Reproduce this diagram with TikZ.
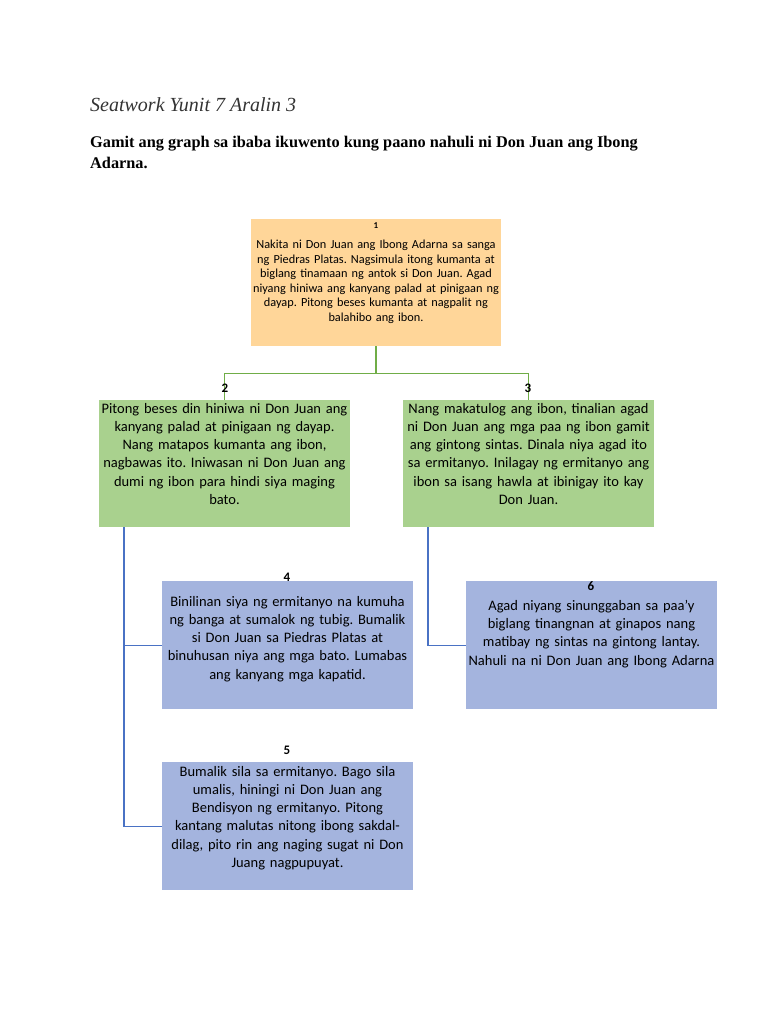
\documentclass[tikz,border=0pt]{standalone}
\usepackage{fontspec}
\setmainfont{Carlito}
\newfontfamily\serifhead{Liberation Serif}
\usepackage{tikz}
\usetikzlibrary{positioning}
\definecolor{orangefill}{HTML}{FFD699}
\definecolor{greenfill}{HTML}{A9D18E}
\definecolor{bluefill}{HTML}{A4B4DE}
\definecolor{greenline}{HTML}{70AD47}
\definecolor{blueline}{HTML}{4A72C4}
\frenchspacing

\begin{document}
\begin{tikzpicture}[x=1pt, y=-1pt,
    orangebox/.style={fill=orangefill, minimum width=250pt, minimum height=127pt, anchor=north west, inner sep=0pt},
    greenbox/.style={fill=greenfill, minimum width=251pt, minimum height=127pt, anchor=north west, inner sep=0pt},
    bluebox/.style={fill=bluefill, minimum width=251pt, minimum height=128pt, anchor=north west, inner sep=0pt},
    bigtext/.style={align=center, text width=270pt, anchor=north, inner sep=0pt, font=\fontsize{14.5}{18.2}\selectfont},
    smalltext/.style={align=center, text width=270pt, anchor=north, inner sep=0pt, font=\fontsize{12.3}{14.5}\selectfont},
    number/.style={inner sep=0pt, font=\bfseries\fontsize{13}{13}\selectfont},
    greenlink/.style={draw=greenline, line width=1.5pt},
    bluelink/.style={draw=blueline, line width=1.1pt}
]
\useasboundingbox (0,0) rectangle (768,1024);

% heading
\node[anchor=base west, inner sep=0pt, text=black!80, font=\serifhead\itshape\fontsize{20}{24}\selectfont] (title) at (90,112) {Seatwork Yunit 7 Aralin 3};
\node[anchor=base west, align=left, inner sep=0pt, font=\serifhead\bfseries\fontsize{16.3}{21}\selectfont] (task) at (90,169) {Gamit ang graph sa ibaba ikuwento kung paano nahuli ni Don Juan ang Ibong\\Adarna.};

% boxes
\node[orangebox] (s1) at (251,219) {};
\node[greenbox] (s2) at (99,400) {};
\node[greenbox] (s3) at (403,400) {};
\node[bluebox] (s4) at (162,581) {};
\node[bluebox] (s6) at (466,581) {};
\node[bluebox] (s5) at (162,762) {};

% connectors
\draw[greenlink] (s1.south) -- ++(0,27) -| (s2.north);
\draw[greenlink] (s1.south) -- ++(0,27) -| (s3.north);
\draw[bluelink] ([xshift=25pt]s2.south west) |- (s4.west);
\draw[bluelink] ([xshift=25pt]s2.south west) |- (s5.west);
\draw[bluelink] ([xshift=25pt]s3.south west) |- (s6.west);

% numbers
\node[number, font=\bfseries\fontsize{9}{9}\selectfont] (n1) at (376,226) {1};
\node[number] (n2) at (225,388) {2};
\node[number] (n3) at (528,388) {3};
\node[number] (n4) at (287,577) {4};
\node[number] (n6) at (591,586) {6};
\node[number] (n5) at (287,750) {5};

% texts
\node[smalltext] (t1) at (376,240) {Nakita ni Don Juan ang Ibong Adarna sa sanga\\ng Piedras Platas. Nagsimula itong kumanta at\\biglang tinamaan ng antok si Don Juan. Agad\\niyang hiniwa ang kanyang palad at pinigaan ng\\dayap. Pitong beses kumanta at nagpalit ng\\balahibo ang ibon.};
\node[bigtext] (t2) at (224.5,403) {Pitong beses din hiniwa ni Don Juan ang\\kanyang palad at pinigaan ng dayap.\\Nang matapos kumanta ang ibon,\\nagbawas ito. Iniwasan ni Don Juan ang\\dumi ng ibon para hindi siya maging\\bato.};
\node[bigtext] (t3) at (528.5,403) {Nang makatulog ang ibon, tinalian agad\\ni Don Juan ang mga paa ng ibon gamit\\ang gintong sintas. Dinala niya agad ito\\sa ermitanyo. Inilagay ng ermitanyo ang\\ibon sa isang hawla at ibinigay ito kay\\Don Juan.};
\node[bigtext] (t4) at (287.5,596) {Binilinan siya ng ermitanyo na kumuha\\ng banga at sumalok ng tubig. Bumalik\\si Don Juan sa Piedras Platas at\\binuhusan niya ang mga bato. Lumabas\\ang kanyang mga kapatid.};
\node[bigtext] (t6) at (591.5,600) {Agad niyang sinunggaban sa paa'y\\biglang tinangnan at ginapos nang\\matibay ng sintas na gintong lantay.\\Nahuli na ni Don Juan ang Ibong Adarna};
\node[bigtext] (t5) at (287.5,766) {Bumalik sila sa ermitanyo. Bago sila\\umalis, hiningi ni Don Juan ang\\Bendisyon ng ermitanyo. Pitong\\kantang malutas nitong ibong sakdal-\\dilag, pito rin ang naging sugat ni Don\\Juang nagpupuyat.};

\end{tikzpicture}
\end{document}
